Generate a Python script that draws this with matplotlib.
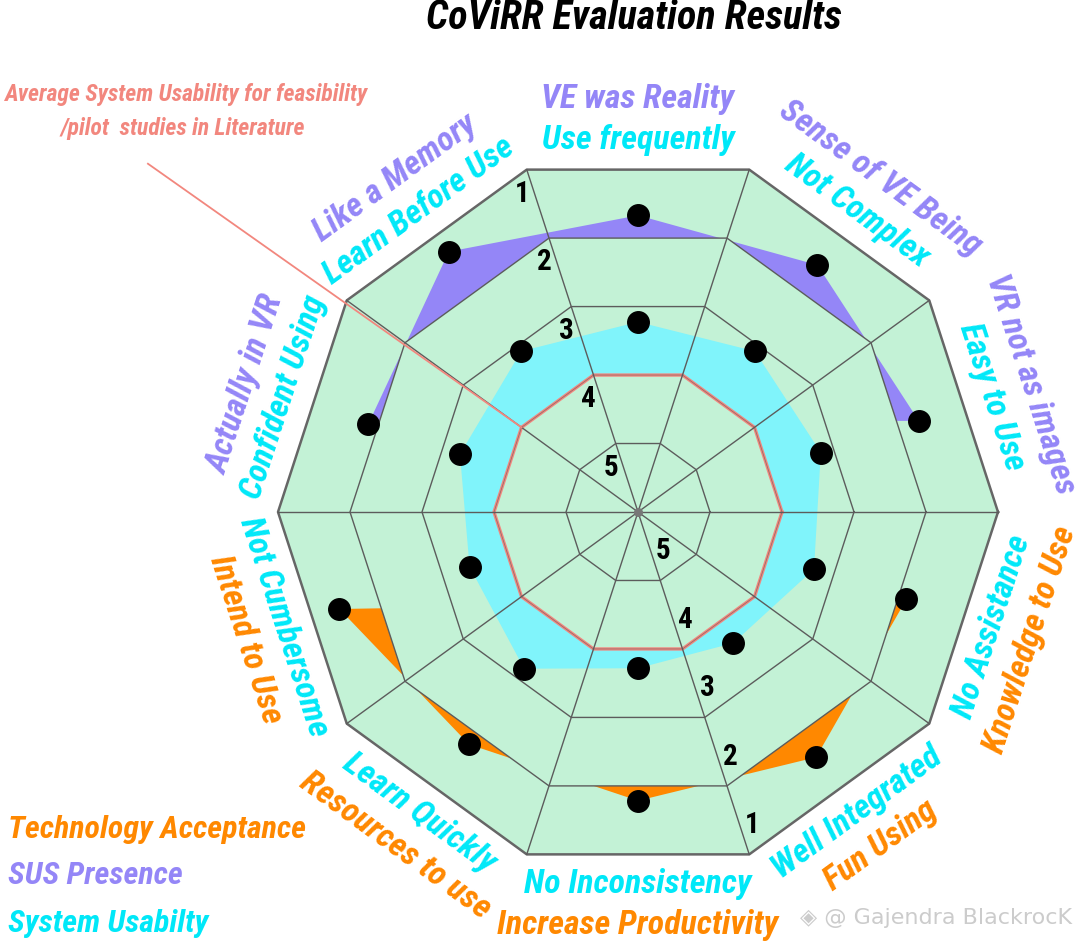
import numpy as np
import matplotlib.pyplot as plt
from matplotlib.patches import Polygon

# ---- data (scale: 1 = outer ring ... 5 = inner ring) ----
axis_angles = [90, 54, 18, -18, -54, -90, -126, -162, 162, 126]   # clockwise from top
sus_items = ["Use frequently", "Not Complex", "Easy to Use", "No Assistance",
             "Well Integrated", "No Inconsistency", "Learn Quickly",
             "Not Cumbersome", "Confident Using", "Learn Before Use"]
outer_items = ["VE was Reality", "Sense of VE Being", "VR not as images",
               "Knowledge to Use", "Fun Using", "Increase Productivity",
               "Resources to use", "Intend to Use", "Actually in VR", "Like a Memory"]
outer_group = ["SUS Presence", "SUS Presence", "SUS Presence",
               "Technology Acceptance", "Technology Acceptance", "Technology Acceptance",
               "Technology Acceptance", "Technology Acceptance",
               "SUS Presence", "SUS Presence"]
sus_scores = [3.36, 3.24, 3.33, 3.43, 3.75, 3.83, 3.31, 3.54, 3.40, 3.24]
outer_scores = [1.88, 1.76, 1.90, 2.08, 1.79, 1.99, 2.01, 1.64, 2.06, 1.53]
literature_avg = 4
scale_ticks = [1, 2, 3, 4, 5]
scale_top = 6          # value at the centre

GREEN = "#c3f2d6"
PURPLE = "#9486f7"
CYAN_FILL = "#80f4fb"
CYAN = "#00e8f8"
ORANGE = "#ff8800"
SALMON = "#f2877e"
GRID = "#5c5c5c"

FONT = ["Liberation Sans Narrow", "Roboto Condensed", "Open Sans Condensed", "DejaVu Sans"]
group_colour = {"SUS Presence": PURPLE, "Technology Acceptance": ORANGE}


def to_xy(values, angles):
    r = scale_top - np.asarray(values, dtype=float)
    a = np.radians(angles)
    return np.column_stack([r * np.cos(a), r * np.sin(a)])


grid_angles = np.arange(0, 360, 36)


def ring(v):
    return to_xy([v] * len(grid_angles), grid_angles)


fig = plt.figure(figsize=(10.8, 9.44), dpi=100)
ax = fig.add_axes([0, 0, 1, 1])
px = 72.0
cx, cy = 638, 512
ax.set_xlim(-cx / px, (1080 - cx) / px)
ax.set_ylim(-(944 - cy) / px, cy / px)
ax.axis("off")

# background
ax.add_patch(Polygon(ring(scale_ticks[0]), closed=True, fc=GREEN, ec="none", zorder=1))

# presence / acceptance polygons (only the part beyond ring 2 stays visible)
for grp in ["SUS Presence", "Technology Acceptance"]:
    idx = [i for i, g in enumerate(outer_group) if g == grp]
    pts = to_xy([outer_scores[i] for i in idx], [axis_angles[i] for i in idx])
    ax.add_patch(Polygon(pts, closed=True, fc=group_colour[grp], ec="none", zorder=2))
ax.add_patch(Polygon(ring(2), closed=True, fc=GREEN, ec="none", zorder=3))

# system usability band
ax.add_patch(Polygon(to_xy(sus_scores, axis_angles), closed=True, fc=CYAN_FILL, ec="none", zorder=4))
ax.add_patch(Polygon(ring(literature_avg), closed=True, fc=GREEN, ec="none", zorder=5))

# grid
for v in scale_ticks:
    pts = ring(v)
    pts = np.vstack([pts, pts[:1]])
    if v == literature_avg:
        ax.plot(pts[:, 0], pts[:, 1], color=SALMON, lw=2.4, zorder=6)
        ax.plot(pts[:, 0], pts[:, 1], color=GRID, lw=0.6, alpha=0.6, zorder=7)
    elif v == 1:
        ax.plot(pts[:, 0], pts[:, 1], color="#666666", lw=1.8, zorder=7)
    else:
        ax.plot(pts[:, 0], pts[:, 1], color=GRID, lw=1.0, zorder=7)
outer = ring(1)
for x, y in outer:
    ax.plot([0, x], [0, y], color=GRID, lw=1.0, zorder=7)
ax.plot(0, 0, "o", color="#777777", ms=5.5, zorder=8)

# data points
p = to_xy(outer_scores, axis_angles)
ax.plot(p[:, 0], p[:, 1], "o", color="black", ms=15.5, ls="none", zorder=9)
p = to_xy(sus_scores, axis_angles)
ax.plot(p[:, 0], p[:, 1], "o", color="black", ms=15.5, ls="none", zorder=9)

# scale numbers along two spokes
for v in scale_ticks:
    x, y = to_xy([v], [108])[0]
    ax.annotate(str(v), (x, y), xytext=(-3.5, -17.5), textcoords="offset points",
                ha="center", va="center", fontsize=21, fontweight="bold",
                family=FONT, zorder=10)
    x, y = to_xy([v], [-72])[0]
    ax.annotate(str(v), (x, y), xytext=(2.2, 21), textcoords="offset points",
                ha="center", va="center", fontsize=21, fontweight="bold",
                family=FONT, zorder=10)


def label(text, ang, r, colour):
    rot = ang - 90 if 0 < ang < 180 else ang + 90
    a = np.radians(ang)
    ax.text(r * np.cos(a), r * np.sin(a), text, rotation=rot, rotation_mode="anchor",
            ha="center", va="center", color=colour, fontsize=24.5, fontweight="bold",
            fontstyle="italic", family=FONT, zorder=10)


for i, ang in enumerate(axis_angles):
    label(sus_items[i], ang, 5.17, CYAN)
    label(outer_items[i], ang, 5.73, group_colour[outer_group[i]])

# literature annotation
a0 = to_xy([literature_avg], [144])[0]
a1 = 8.35 * np.array([np.cos(np.radians(144.6)), np.sin(np.radians(144.6))])
ax.plot([a0[0], a1[0]], [a0[1], a1[1]], color=SALMON, lw=1.3, zorder=11)
fig.text(186 / 1080, 1 - 95 / 944, "Average System Usability for feasibility", ha="center",
         va="center", color=SALMON, fontsize=17, fontweight="bold", fontstyle="italic", family=FONT)
fig.text(183 / 1080, 1 - 128 / 944, "/pilot  studies in Literature", ha="center",
         va="center", color=SALMON, fontsize=17, fontweight="bold", fontstyle="italic", family=FONT)

# title and legend text
fig.text(634 / 1080, 1 - 18 / 944, "CoViRR Evaluation Results", ha="center", va="center",
         fontsize=29, fontweight="bold", fontstyle="italic", family=FONT)
for txt, col, ypx in [("Technology Acceptance", ORANGE, 829), ("SUS Presence", PURPLE, 876),
                      ("System Usabilty", CYAN, 924)]:
    fig.text(8 / 1080, 1 - ypx / 944, txt, ha="left", va="center", color=col,
             fontsize=23, fontweight="bold", fontstyle="italic", family=FONT)

fig.text(800 / 1080, 1 - 918 / 944, "\u25c8 @ Gajendra BlackrocK", ha="left", va="center",
         color="#cccccc", fontsize=16, family="DejaVu Sans")

fig.savefig("out.png", dpi=100)
